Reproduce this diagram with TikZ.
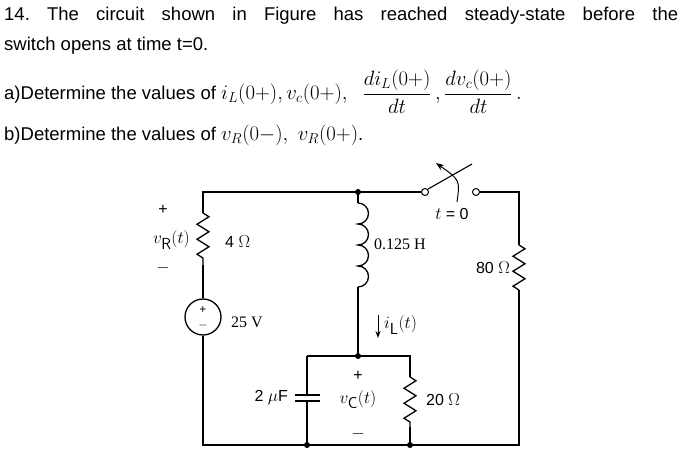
\documentclass[tikz,border=0pt]{standalone}
\usepackage{fontspec}
\setmainfont{Liberation Sans}
\newfontfamily\serifc{Liberation Serif}
\usetikzlibrary{decorations.pathmorphing,arrows.meta}
\newcommand{\mathbg}[1]{{\fontsize{22}{24}\selectfont$#1$}}
\frenchspacing
\begin{document}
\begin{tikzpicture}[x=1pt,y=1pt,
  wire/.style={line width=1.3pt},
  res/.style={wire,decorate,decoration={zigzag,segment length=15pt,amplitude=6pt}},
  dot/.style={circle,fill,inner sep=0pt,minimum size=6pt},
  lbl/.style={font=\fontsize{16}{18}\selectfont,inner sep=1pt},
  txt/.style={font=\fontsize{18.5}{21}\selectfont,inner sep=0pt,anchor=west}]
\useasboundingbox (0,0) rectangle (685,472);
% text
\node[txt] (l1) at (4,456) {\frenchspacing\makebox[674pt][s]{14.\ The circuit shown in Figure has reached steady-state before the}};
\node[txt] (l2) at (4,426) {switch opens at time t=0.};
\node[txt] (l3) at (4,380) {a)Determine the values of \mathbg{i_L(0{+}),v_c(0{+}),\;\; \displaystyle\frac{di_L(0{+})}{dt}\,,\frac{dv_c(0{+})}{dt}\,.}};
\node[txt] (l4) at (4,337) {b)Determine the values of \mathbg{v_R(0{-}),\ v_R(0{+})}.};
% coordinates
\coordinate (TL) at (203,280); \coordinate (TM) at (358,280); \coordinate (TR) at (519,280);
\coordinate (BL) at (203,27); \coordinate (BC) at (307,27); \coordinate (BR20) at (410,27); \coordinate (BR) at (519,27);
\coordinate (MM) at (358,116); \coordinate (MC) at (307,116); \coordinate (MR) at (410,116);
\coordinate (R4a) at (203,259); \coordinate (R4b) at (203,207);
\node[circle,draw,line width=1.3pt,minimum size=36pt,inner sep=0pt] (V) at (203,155) {};
\node[font=\fontsize{12}{12}\selectfont,inner sep=0pt] (vp) at (203,162) {+};
\node[font=\fontsize{12}{12}\selectfont,inner sep=0pt] (vm) at (203,147) {$-$};
\coordinate (La) at (358,269); \coordinate (Lb) at (358,185);
\coordinate (R8a) at (519,227); \coordinate (R8b) at (519,182);
\coordinate (R2a) at (410,95); \coordinate (R2b) at (410,45);
\coordinate (Ca) at (307,77); \coordinate (Cb) at (307,71);
\node[circle,draw,line width=1pt,fill=white,minimum size=7pt,inner sep=0pt] (S1) at (425,280) {};
\node[circle,draw,line width=1pt,fill=white,minimum size=7pt,inner sep=0pt] (S2) at (476,280) {};
\coordinate (Sb) at (472,308);
% wires
\draw[wire] (R4a) -- (TL) -- (TM) -- (S1);
\draw[wire] (S2) -- (TR) -- (R8a);
\draw[wire] (R8b) -- (BR) -- (BL) -- (V.south);
\draw[wire] (V.north) -- (R4b);
\draw[res] (R4a) -- (R4b);
\draw[res] (R8a) -- (R8b);
\draw[res] (R2a) -- (R2b);
\draw[wire] (TM) -- (La);
\draw[wire] (La) arc[start angle=90,end angle=-90,radius=10.5] arc[start angle=90,end angle=-90,radius=10.5] arc[start angle=90,end angle=-90,radius=10.5] arc[start angle=90,end angle=-90,radius=10.5];
\draw[wire] (Lb) -- (MM);
\draw[wire] (MC) -- (MR) -- (R2a);
\draw[wire] (R2b) -- (BR20);
\draw[wire] (MC) -- (Ca); \draw[wire] (Cb) -- (BC);
\draw[wire] (295,77) -- (320,77); \draw[wire] (295,71) -- (320,71);
\draw[line width=1.1pt] (S1.north east) -- (Sb);
\draw[line width=1pt,-{Stealth[length=8pt,width=6pt]}] (457,270) .. controls (460,292) .. (436,309);
\node[dot] at (TM) {}; \node[dot] at (MM) {}; \node[dot] at (BC) {}; \node[dot] at (BR20) {};
\coordinate (iA) at (378,157); \coordinate (iB) at (378,134);
\draw[line width=1pt,-{Stealth[length=7pt,width=5pt]}] (iA) -- (iB);
% labels
\node[lbl] (a1) at (163,262) {+};
\node[lbl,anchor=east] (a2) at (191,232) {$v_{\textsf{R}}(t)$};
\node[lbl] (a3) at (163,204) {$-$};
\node[lbl,anchor=west] (a4) at (224,230) {4 $\Omega$};
\node[lbl,anchor=west,font=\serifc\fontsize{16}{18}\selectfont] (a5) at (230,150) {25 V};
\node[lbl,anchor=west,font=\serifc\fontsize{16}{18}\selectfont] (a6) at (373,228) {0.125 H};
\node[lbl] (a7) at (452,258) {$t$ = 0};
\node[lbl,anchor=east] (a8) at (511,204) {80 $\Omega$};
\node[lbl,anchor=west] (a9) at (383,147) {$i_{\textsf{L}}(t)$};
\node[lbl] (b1) at (358,96) {+};
\node[lbl] (b2) at (358,72) {$v_{\textsf{C}}(t)$};
\node[lbl] (b3) at (358,38) {$-$};
\node[lbl,anchor=east] (b4) at (289,74) {2 $\mu$F};
\node[lbl,anchor=west] (b5) at (425,72) {20 $\Omega$};
\end{tikzpicture}
\end{document}
